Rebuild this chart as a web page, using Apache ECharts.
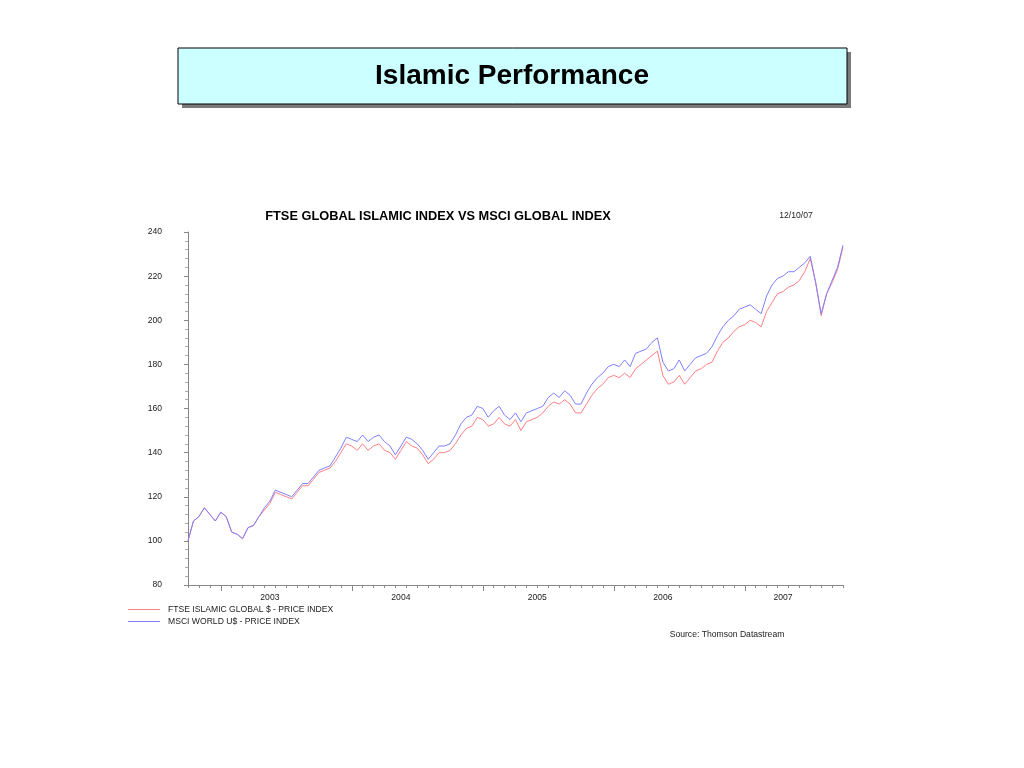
<!DOCTYPE html>
<html>
<head>
<meta charset="utf-8">
<script src="https://cdn.jsdelivr.net/npm/echarts@6/dist/echarts.min.js"></script>
<style>html,body{margin:0;padding:0;background:#fff;}#c{width:1024px;height:768px;}</style>
</head>
<body>
<div id="c"></div>
<script>
// Half-monthly observations, 1 Oct 2002 .. 1 Oct 2007 (rebased to 100)
const categories = [];
for (let k = 0; k <= 120; k++) {
  const mi = 9 + Math.floor(k / 2);
  const y = 2002 + Math.floor(mi / 12);
  const m = (mi % 12) + 1;
  categories.push(y + '-' + (m < 10 ? '0' + m : m) + '-' + (k % 2 ? '16' : '01'));
}
const ftseIslamic = [
  100,109,111,115,112,109,113,111,104,103,101,106,107,111,114,117,122,121,120,119,
  122,125,125,128,131,132,133,136,140,144,143,141,144,141,143,144,141,140,137,141,
  145,143,142,139,135,137,140,140,141,144,148,151,152,156,155,152,153,156,153,152,
  155,150,154,155,156,158,161,163,162,164,162,158,158,162,166,169,171,174,175,174,
  176,174,178,180,182,184,186,175,171,172,175,171,174,177,178,180,181,186,190,192,
  195,197,198,200,199,197,204,208,212,213,215,216,218,222,228,217,202,212,217,223,233
];
const msciWorld = [
  100,109,111,115,112,109,113,111,104,103,101,106,107,111,115,118,123,122,121,120,
  123,126,126,129,132,133,134,138,142,147,146,145,148,145,147,148,145,143,139,143,
  147,146,144,141,137,140,143,143,144,148,153,156,157,161,160,156,159,161,157,155,
  158,154,158,159,160,161,165,167,165,168,166,162,162,167,171,174,176,179,180,179,
  182,179,185,186,187,190,192,181,177,178,182,177,180,183,184,185,188,193,197,200,
  202,205,206,207,205,203,211,216,219,220,222,222,224,226,229,217,203,212,218,224,234
];
const yearLabelDates = ['2003-05-16','2004-05-16','2005-06-01','2006-05-16','2007-04-16'];
const seriesNames = ['FTSE ISLAMIC GLOBAL $ - PRICE INDEX', 'MSCI WORLD U$ - PRICE INDEX'];
const seriesColors = ['#ff7f86', '#7f7fff'];

const chart = echarts.init(document.getElementById('c'), null, {renderer: 'canvas'});
const font = 'Liberation Sans, Arial, sans-serif';
chart.setOption({
  animation: false,
  backgroundColor: '#ffffff',
  textStyle: {fontFamily: font},
  graphic: [
    {type: 'rect', shape: {x: 182, y: 52, width: 669, height: 56},
     style: {fill: '#7a7a7a', stroke: null}, z: 1},
    {type: 'rect', shape: {x: 178, y: 48, width: 669, height: 56},
     style: {fill: '#ccffff', stroke: '#000', lineWidth: 1}, z: 2},
    {type: 'text', x: 512, y: 76, z: 3,
     style: {text: 'Islamic Performance', font: 'bold 28px ' + font, fill: '#000', textAlign: 'center', textVerticalAlign: 'middle'}},
    {type: 'text', x: 438, y: 216, z: 3,
     style: {text: 'FTSE GLOBAL ISLAMIC INDEX VS MSCI GLOBAL INDEX', font: 'bold 12.8px ' + font, fill: '#000', textAlign: 'center', textVerticalAlign: 'middle'}},
    {type: 'text', x: 796, y: 216, z: 3,
     style: {text: '12/10/07', font: '8.6px ' + font, fill: '#222', textAlign: 'center', textVerticalAlign: 'middle'}},
    {type: 'text', x: 727, y: 635, z: 3,
     style: {text: 'Source: Thomson Datastream', font: '8.6px ' + font, fill: '#222', textAlign: 'center', textVerticalAlign: 'middle'}}
  ],
  legend: {
    orient: 'vertical', left: 123, top: 599, itemWidth: 32, itemHeight: 1, itemGap: 1,
    icon: 'path://M0,0H32V1H0Z',
    itemStyle: {borderWidth: 0},
    data: seriesNames.map((n, i) => ({name: n, itemStyle: {color: seriesColors[i], borderWidth: 0}})),
    textStyle: {fontSize: 8.6, color: '#222', fontFamily: font, lineHeight: 11, padding: [0, 0, 0, 3]}
  },
  grid: {left: 188, right: 181, top: 232, bottom: 183, containLabel: false},
  xAxis: [
    {type: 'category', data: categories, boundaryGap: false,
     axisLine: {lineStyle: {color: '#888', width: 1}},
     axisTick: {length: 3, lineStyle: {color: '#888'}, interval: (i, v) => v.endsWith('-01')},
     axisLabel: {interval: (i, v) => yearLabelDates.indexOf(v) >= 0, formatter: v => v.slice(0, 4),
                 fontSize: 8.6, color: '#222', margin: 8, fontFamily: font, hideOverlap: false},
     splitLine: {show: false}},
    {type: 'category', data: categories, boundaryGap: false, position: 'bottom',
     axisLine: {show: false},
     axisTick: {length: 6, lineStyle: {color: '#888'}, interval: (i, v) => v.endsWith('-01-01')},
     axisLabel: {show: false}, splitLine: {show: false}}
  ],
  yAxis: {
    type: 'value', min: 80, max: 240, interval: 20,
    axisLine: {show: true, lineStyle: {color: '#888', width: 1}},
    axisTick: {show: true, length: 4, lineStyle: {color: '#888'}},
    minorTick: {show: true, splitNumber: 5, length: 3, lineStyle: {color: '#aaa'}},
    axisLabel: {fontSize: 8.6, color: '#222', margin: 26, fontFamily: font},
    splitLine: {show: false}
  },
  series: [
    {name: seriesNames[0], type: 'line', data: ftseIslamic, symbol: 'none',
     itemStyle: {color: seriesColors[0]}, lineStyle: {width: 1, color: seriesColors[0]}, xAxisIndex: 0},
    {name: seriesNames[1], type: 'line', data: msciWorld, symbol: 'none',
     itemStyle: {color: seriesColors[1]}, lineStyle: {width: 1, color: seriesColors[1]}, xAxisIndex: 0}
  ]
});
</script>
</body>
</html>
